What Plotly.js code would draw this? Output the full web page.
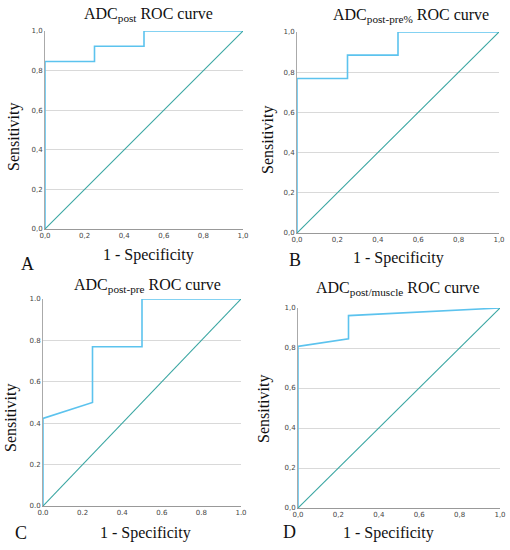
<!DOCTYPE html>
<html>
<head>
<meta charset="utf-8">
<script src="https://cdn.plot.ly/plotly-3.0.1.min.js"></script>
<style>
  html, body { margin: 0; padding: 0; background: #fff; }
  #chart { width: 510px; height: 550px; }
</style>
</head>
<body>
<div id="chart"></div>
<script>
// ROC curves, one per ADC measure
var rocAx = [0, 0, 0.25, 0.25, 0.5, 0.5, 1];
var rocAy = [0, 0.846, 0.846, 0.923, 0.923, 1, 1];

var rocBx = [0, 0, 0.25, 0.25, 0.5, 0.5, 1];
var rocBy = [0, 0.769, 0.769, 0.885, 0.885, 1, 1];

var rocCx = [0, 0, 0.25, 0.25, 0.5, 0.5, 1];
var rocCy = [0, 0.423, 0.5, 0.769, 0.769, 1, 1];

var rocDx = [0, 0, 0.25, 0.25, 1];
var rocDy = [0, 0.808, 0.846, 0.962, 1];

var diagX = [0, 1];
var diagY = [0, 1];

var tickVals = [0, 0.2, 0.4, 0.6, 0.8, 1];
var tickComma = ['0,0', '0,2', '0,4', '0,6', '0,8', '1,0'];
var tickDot = ['0.0', '0.2', '0.4', '0.6', '0.8', '1.0'];

var titles = [
  'ADC<sub style="font-size:11px">post</sub> ROC curve',
  'ADC<sub>post-pre%</sub> ROC curve',
  'ADC<sub>post-pre</sub> ROC curve',
  'ADC<sub>post/muscle</sub> ROC curve'
];
var letters = ['A', 'B', 'C', 'D'];

var curveColor = '#5cc3ee';
var diagColor = '#3aa6a2';
var serif = 'Liberation Serif, Times New Roman, serif';

var panels = [
  {x: rocAx, y: rocAy, ticks: tickComma, dx: [45/510, 243/510], dy: [1-229/550, 1-31/550]},
  {x: rocBx, y: rocBy, ticks: tickComma, dx: [297/510, 499/510], dy: [1-233/550, 1-32/550]},
  {x: rocCx, y: rocCy, ticks: tickDot, dx: [43/510, 241/510], dy: [1-506/550, 1-299/550]},
  {x: rocDx, y: rocDy, ticks: tickComma, dx: [298/510, 500/510], dy: [1-508/550, 1-308/550]}
];

// where the text goes, in pixels from top-left
var titlePos = [[148, 15], [411, 16], [147, 285], [398, 288]];
var sensPos = [[14, 137], [268, 140], [11, 418], [264, 409]];
var specPos = [[148, 255], [398, 258], [145, 533], [388, 533]];
var letterPos = [[27, 264], [295, 260], [21, 533], [289, 532]];

var data = [];
var layout = {
  width: 510,
  height: 550,
  margin: {t: 0, b: 0, l: 0, r: 0},
  paper_bgcolor: '#fff',
  plot_bgcolor: '#fff',
  showlegend: false,
  annotations: []
};

function px(x) { return x / 510; }
function py(y) { return 1 - y / 550; }

panels.forEach(function(p, i) {
  var n = i === 0 ? '' : String(i + 1);
  data.push({x: p.x, y: p.y, xaxis: 'x' + n, yaxis: 'y' + n, mode: 'lines',
    line: {color: curveColor, width: 1.6}, hoverinfo: 'skip'});
  data.push({x: diagX, y: diagY, xaxis: 'x' + n, yaxis: 'y' + n, mode: 'lines',
    line: {color: diagColor, width: 1.1}, hoverinfo: 'skip'});

  layout['xaxis' + n] = {
    domain: p.dx, anchor: 'y' + n, range: [0, 1],
    tickvals: tickVals, ticktext: p.ticks,
    tickfont: {size: 7, color: '#444', family: 'DejaVu Sans'},
    showgrid: false, zeroline: false,
    showline: true, linecolor: '#999', linewidth: 1,
    ticks: '', ticklen: 0
  };
  layout['yaxis' + n] = {
    domain: p.dy, anchor: 'x' + n, range: [0, 1],
    tickvals: tickVals, ticktext: p.ticks,
    tickfont: {size: 7, color: '#444', family: 'DejaVu Sans'},
    showgrid: true, gridcolor: '#d9d9d9', gridwidth: 1, zeroline: false,
    showline: true, linecolor: '#aaa', linewidth: 1,
    ticks: '', ticklen: 0
  };

  layout.annotations.push({
    text: titles[i], x: px(titlePos[i][0]), y: py(titlePos[i][1]),
    xref: 'paper', yref: 'paper', showarrow: false,
    xanchor: 'center', yanchor: 'middle',
    font: {family: serif, size: 16, color: '#111'}
  });
  layout.annotations.push({
    text: 'Sensitivity', x: px(sensPos[i][0]), y: py(sensPos[i][1]),
    xref: 'paper', yref: 'paper', showarrow: false, textangle: -90,
    xanchor: 'center', yanchor: 'middle',
    font: {family: serif, size: 16, color: '#111'}
  });
  layout.annotations.push({
    text: '1 - Specificity', x: px(specPos[i][0]), y: py(specPos[i][1]),
    xref: 'paper', yref: 'paper', showarrow: false,
    xanchor: 'center', yanchor: 'middle',
    font: {family: serif, size: 16, color: '#111'}
  });
  layout.annotations.push({
    text: letters[i], x: px(letterPos[i][0]), y: py(letterPos[i][1]),
    xref: 'paper', yref: 'paper', showarrow: false,
    xanchor: 'center', yanchor: 'middle',
    font: {family: serif, size: 18, color: '#111'}
  });
});

Plotly.newPlot('chart', data, layout, {displayModeBar: false, staticPlot: true});
</script>
</body>
</html>
